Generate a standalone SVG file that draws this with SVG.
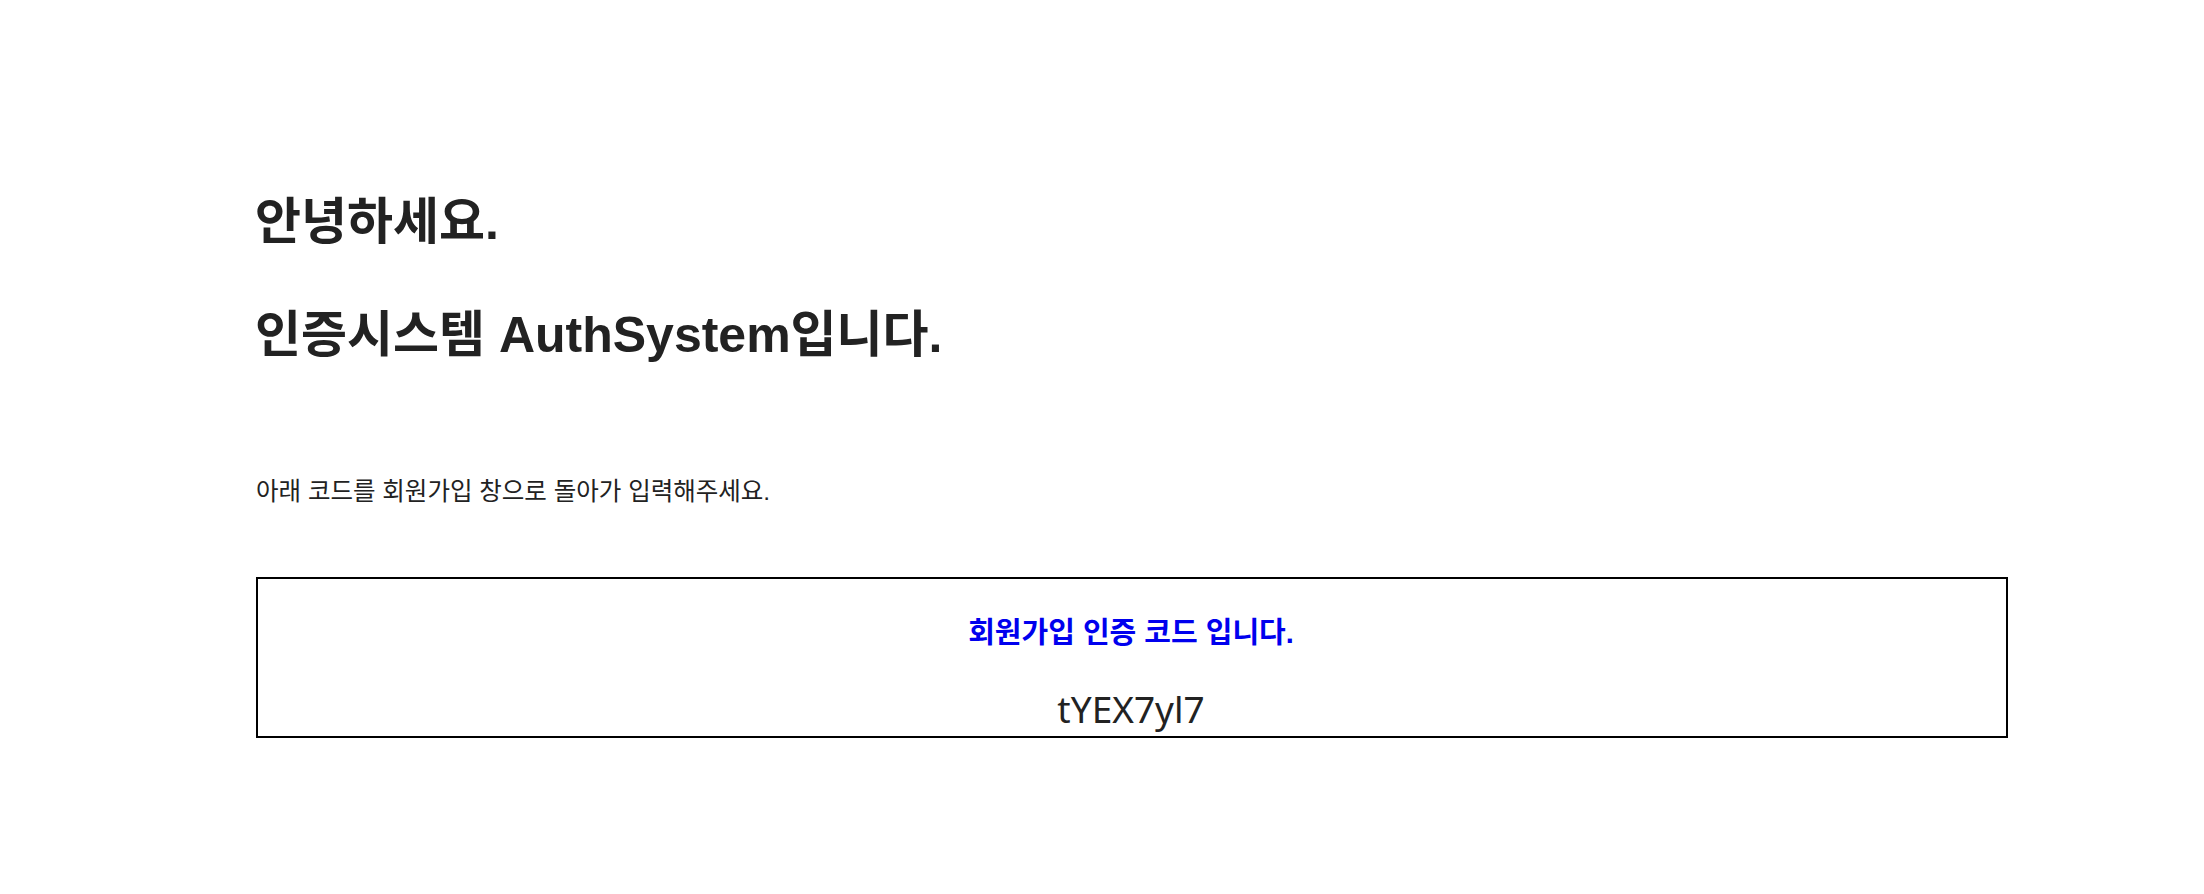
<svg xmlns="http://www.w3.org/2000/svg" width="2204" height="894" viewBox="0 0 2204 894">
<style>
.h{font-family:"Liberation Sans","Noto Sans CJK KR",sans-serif;font-weight:bold;font-size:50px;fill:#222}
.p{font-family:"Liberation Sans","Noto Sans CJK KR",sans-serif;font-size:24.5px;fill:#222}
.b{font-family:"Liberation Sans","Noto Sans CJK KR",sans-serif;font-weight:bold;font-size:29px;fill:#0000ee}
.c{font-family:"Noto Sans","Noto Sans CJK KR",sans-serif;font-size:37px;fill:#222}
</style>
<rect width="2204" height="894" fill="#fff"/>
<g id="title1"><text class="h" x="255" y="239">안녕하세요.</text></g>
<g id="title2"><text class="h" x="255" y="352">인증시스템 AuthSystem입니다.</text></g>
<g id="instruction"><text class="p" x="256" y="500">아래 코드를 회원가입 창으로 돌아가 입력해주세요.</text></g>
<g id="codebox">
<rect x="257" y="578" width="1750" height="159" fill="none" stroke="#000" stroke-width="2"/>
<text class="b" x="1131" y="643" text-anchor="middle">회원가입 인증 코드 입니다.</text>
<text class="c" x="1131" y="723" text-anchor="middle">tYEX7yl7</text>
</g>
<g id="connectors"/>
</svg>
